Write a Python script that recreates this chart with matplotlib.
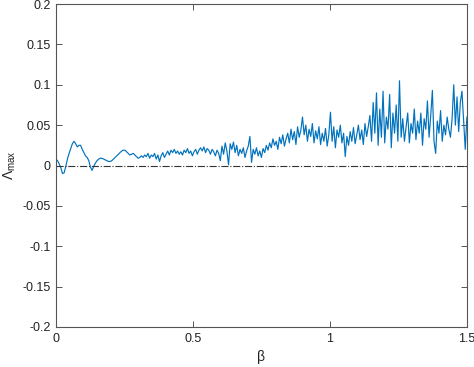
"""Largest Lyapunov exponent against beta."""
import numpy as np
import matplotlib
matplotlib.use("Agg")
import matplotlib.pyplot as plt

plt.rcParams["font.family"] = ["Liberation Sans", "DejaVu Sans"]
plt.rcParams["mathtext.fontset"] = "custom"
plt.rcParams["mathtext.rm"] = "Liberation Sans"
plt.rcParams["mathtext.it"] = "Liberation Sans"

# sampling step of beta
beta_step = 0.006

# smooth part, beta 0 .. 0.348
lam_smooth = [
    0.008, 0.006, 0.002, -0.003, -0.010, -0.009, -0.001, 0.008, 0.015, 0.021,
    0.027, 0.030, 0.027, 0.023, 0.025, 0.025, 0.020, 0.016, 0.012, 0.010,
    0.006, -0.002, -0.006, -0.001, 0.003, 0.006, 0.008, 0.009, 0.009, 0.008,
    0.007, 0.006, 0.005, 0.005, 0.006, 0.008, 0.010, 0.012, 0.014, 0.016,
    0.018, 0.019, 0.019, 0.017, 0.015, 0.013, 0.014, 0.015, 0.013, 0.011,
    0.009, 0.010, 0.012, 0.010, 0.013, 0.011, 0.015, 0.009, 0.013,
]

# noisy part, beta 0.354 .. 1.5
lam_noisy = [
    0.011, 0.015, 0.008, 0.013, 0.005, 0.012, 0.016, 0.010, 0.014, 0.018,
    0.013, 0.019, 0.016, 0.020, 0.015, 0.018, 0.014,
    0.017, 0.013, 0.019, 0.016, 0.021, 0.015, 0.018, 0.012, 0.017, 0.020,
    0.014, 0.019, 0.022,
    0.018, 0.023, 0.016, 0.021, 0.019, 0.014, 0.020, 0.017, 0.012, 0.019,
    0.015, 0.006,
    0.024, 0.014, 0.028, 0.018, 0.001, 0.027, 0.020, 0.029, 0.016, 0.025,
    0.012, 0.020, 0.015, 0.022, 0.010, 0.018, 0.024, 0.036, 0.004, 0.020,
    0.014, 0.022, 0.012, 0.018, 0.010, 0.021, 0.016, 0.025, 0.019, 0.028,
    0.022, 0.033, 0.025, 0.030, 0.020, 0.035, 0.027, 0.038, 0.024, 0.033,
    0.040, 0.028, 0.045, 0.032, 0.042, 0.026, 0.048, 0.035, 0.044, 0.060,
    0.038, 0.050, 0.030, 0.045, 0.036, 0.052, 0.028, 0.043, 0.033, 0.048,
    0.026, 0.040, 0.030, 0.046, 0.024, 0.038, 0.066, 0.030, 0.048, 0.022,
    0.044, 0.035, 0.050, 0.028, 0.040, 0.011, 0.036, 0.025, 0.042, 0.030,
    0.047, 0.027, 0.038, 0.050, 0.032, 0.044, 0.026, 0.052, 0.036, 0.048,
    0.062, 0.030, 0.078, 0.040, 0.090, 0.025, 0.070, 0.035, 0.092, 0.028,
    0.060, 0.045, 0.088, 0.022, 0.065, 0.040, 0.075, 0.030, 0.105, 0.035,
    0.058, 0.030, 0.048, 0.065, 0.028, 0.052, 0.040, 0.070, 0.032, 0.055,
    0.040, 0.065, 0.025, 0.058, 0.045, 0.080, 0.035, 0.062, 0.093, 0.030,
    0.015, 0.055, 0.040, 0.068, 0.030, 0.050, 0.038, 0.060, 0.045, 0.035,
    0.058, 0.100, 0.050, 0.085, 0.042, 0.078, 0.092, 0.055, 0.020, 0.060,
]

lam = np.array(lam_smooth + lam_noisy)
beta = np.arange(len(lam)) * beta_step

x_ticks = [0, 0.5, 1, 1.5]
x_tick_labels = ["0", "0.5", "1", "1.5"]
y_ticks = [-0.2, -0.15, -0.1, -0.05, 0, 0.05, 0.1, 0.15, 0.2]
y_tick_labels = ["-0.2", "-0.15", "-0.1", "-0.05", "0", "0.05", "0.1", "0.15", "0.2"]

fig = plt.figure(figsize=(4.74, 3.67), dpi=100)
ax = fig.add_axes([0.118, 0.109, 0.867, 0.880])

ax.plot(beta, lam, color="#0072BD", linewidth=0.85)
ax.axhline(0, color="#333333", linestyle="-.", linewidth=0.8)

ax.set_xlim(0, 1.5)
ax.set_ylim(-0.2, 0.2)
ax.set_xticks(x_ticks)
ax.set_xticklabels(x_tick_labels)
ax.set_yticks(y_ticks)
ax.set_yticklabels(y_tick_labels)

ax.tick_params(direction="in", top=True, right=True, length=4, width=0.7,
               color="#555555", labelsize=9, labelcolor="#222222", pad=4)
for spine in ax.spines.values():
    spine.set_color("#555555")
    spine.set_linewidth(0.8)

ax.set_xlabel("β", fontsize=10, color="#222222", labelpad=4)
ax.set_ylabel("Λ$_{\\mathrm{max}}$", fontsize=10, color="#222222", labelpad=3)

fig.savefig("out.png", dpi=100)
